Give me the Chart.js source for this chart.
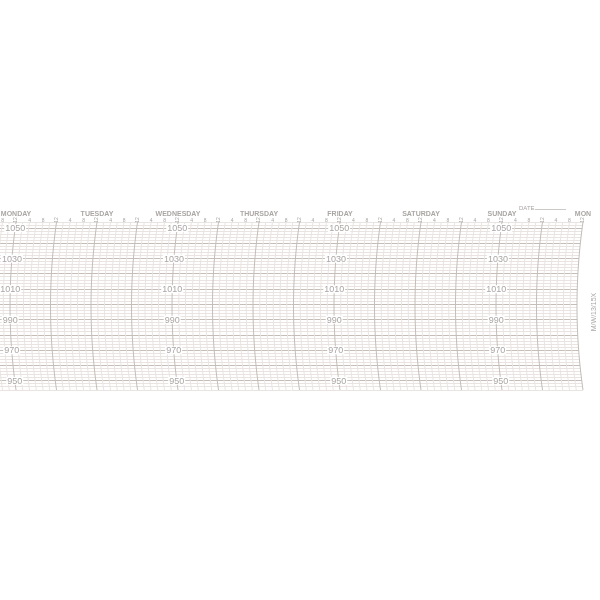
<!DOCTYPE html>
<html><head><meta charset="utf-8">
<script src="https://cdn.jsdelivr.net/npm/chart.js@4/dist/chart.umd.min.js"></script>
<style>html,body{margin:0;padding:0;background:#fff}#wrap{width:600px;height:600px}</style>
</head><body><div id="wrap"><canvas id="c" width="600" height="600"></canvas></div>
<script>
// ---- chart paper content ----
const dayNames = ['MONDAY','TUESDAY','WEDNESDAY','THURSDAY','FRIDAY','SATURDAY','SUNDAY','MON'];
const dayNoonHours = [12, 36, 60, 84, 108, 132, 156, 180];
const clockLabels = ['12', '4', '8', '12', '4', '8'];   // every 4 hours from midnight
const pressureLabels = [1050, 1030, 1010, 990, 970, 950];
const pressureLabelDays = [0, 2, 4, 6];                 // days whose noon arc carries the hPa labels
const pressureRange = [944, 1054];
const timeRange = [7.25, 180];                          // hours since Monday 00:00
const barometricTrace = [];                             // blank paper: no trace recorded
const formCode = 'M/W/13/15X';
const dateLabel = 'DATE';

const MINOR = '#e9e4e1', MAJOR = '#c4bdb8', TEXT = '#aaa6a4';
const BOW = 6;

const paperPlugin = {
  id: 'paper',
  arcX(chart, t, y) {
    const xs = chart.scales.x, a = chart.chartArea;
    const mid = (a.top + a.bottom) / 2, half = (a.bottom - a.top) / 2;
    const u = (y - mid) / half;
    return xs.getPixelForValue(t) - BOW * (1 - u * u);
  },
  strokeArc(chart, t, color) {
    const ctx = chart.ctx, a = chart.chartArea;
    ctx.beginPath();
    for (let y = a.top; y <= a.bottom + 0.01; y += 2) {
      const x = this.arcX(chart, t, y);
      if (y === a.top) ctx.moveTo(x, y); else ctx.lineTo(x, y);
    }
    ctx.strokeStyle = color; ctx.lineWidth = 1; ctx.stroke();
  },
  beforeDatasetsDraw(chart) {
    const ctx = chart.ctx, a = chart.chartArea;
    ctx.save();
    ctx.beginPath(); ctx.rect(a.left, a.top - 1, a.right - a.left + 2, a.bottom - a.top + 2); ctx.clip();
    // blank out the part right of the last arc
    ctx.beginPath();
    ctx.moveTo(a.right + 2, a.top - 1);
    for (let y = a.top; y <= a.bottom + 0.01; y += 2) ctx.lineTo(this.arcX(chart, timeRange[1], y), y);
    ctx.lineTo(a.right + 2, a.bottom + 1);
    ctx.closePath(); ctx.fillStyle = '#fff'; ctx.fill();
    const start = Math.ceil(timeRange[0] / 2) * 2;
    for (let h = start; h <= timeRange[1]; h += 2) if (h % 12 !== 0) this.strokeArc(chart, h, MINOR);
    for (let h = start; h <= timeRange[1]; h += 2) if (h % 12 === 0) this.strokeArc(chart, h, MAJOR);
    ctx.restore();

    // pressure labels on the noon arcs
    const ys = chart.scales.y;
    ctx.save();
    ctx.font = '9px "Liberation Sans", Arial, sans-serif';
    ctx.textAlign = 'center'; ctx.textBaseline = 'middle';
    pressureLabelDays.forEach(d => {
      pressureLabels.forEach(p => {
        const y = ys.getPixelForValue(p);
        const x = this.arcX(chart, dayNoonHours[d], y);
        const w = ctx.measureText(String(p)).width;
        ctx.fillStyle = '#fff';
        ctx.fillRect(x - w / 2 - 1, y - 4, w + 2, 8);
        ctx.fillStyle = TEXT;
        ctx.fillText(String(p), x, y + 0.5);
      });
    });
    ctx.restore();

    // top: day names and clock marks
    const xs = chart.scales.x;
    ctx.save();
    ctx.fillStyle = TEXT;
    ctx.font = 'bold 7px "Liberation Sans", Arial, sans-serif';
    ctx.textAlign = 'center'; ctx.textBaseline = 'alphabetic';
    dayNames.forEach((n, i) => {
      const x = xs.getPixelForValue(dayNoonHours[i]);
      ctx.fillText(n, x, 216);
    });
    ctx.font = '5px "Liberation Sans", Arial, sans-serif';
    for (let h = Math.ceil(timeRange[0] / 4) * 4; h <= timeRange[1]; h += 4) {
      const lab = clockLabels[(h % 24) / 4];
      const x = xs.getPixelForValue(h);
      if (lab === '12') {
        ctx.save(); ctx.translate(x, 220); ctx.rotate(-Math.PI / 2);
        ctx.textAlign = 'center'; ctx.textBaseline = 'middle';
        ctx.fillText(lab, 0, 0); ctx.restore();
      } else {
        ctx.fillText(lab, x, 222);
      }
    }
    // DATE line
    ctx.font = '6px "Liberation Sans", Arial, sans-serif';
    ctx.textAlign = 'left';
    ctx.fillText(dateLabel, 519, 210);
    ctx.strokeStyle = TEXT; ctx.lineWidth = 0.6;
    ctx.beginPath(); ctx.moveTo(535, 209.5); ctx.lineTo(566, 209.5); ctx.stroke();
    // form code on the right edge
    ctx.font = '7px "Liberation Sans", Arial, sans-serif';
    ctx.translate(594, 312); ctx.rotate(-Math.PI / 2);
    ctx.textAlign = 'center'; ctx.textBaseline = 'middle';
    ctx.fillText(formCode, 0, 0);
    ctx.restore();
  }
};

new Chart(document.getElementById('c'), {
  type: 'line',
  data: { datasets: [{ data: barometricTrace, borderColor: '#333', pointRadius: 0 }] },
  options: {
    responsive: false, animation: false,
    layout: { padding: { left: 0, right: 17, top: 222, bottom: 210 } },
    plugins: { legend: { display: false }, tooltip: { enabled: false } },
    scales: {
      x: { type: 'linear', min: timeRange[0], max: timeRange[1], display: false },
      y: {
        type: 'linear', min: pressureRange[0], max: pressureRange[1],
        ticks: { stepSize: 2, display: false },
        border: { display: false },
        grid: { drawTicks: false, lineWidth: 1,
          color: c => (c.tick && c.tick.value % 10 === 0) ? MAJOR : MINOR },
        afterFit: s => { s.width = 0; }
      }
    }
  },
  plugins: [paperPlugin]
});
</script></body></html>
